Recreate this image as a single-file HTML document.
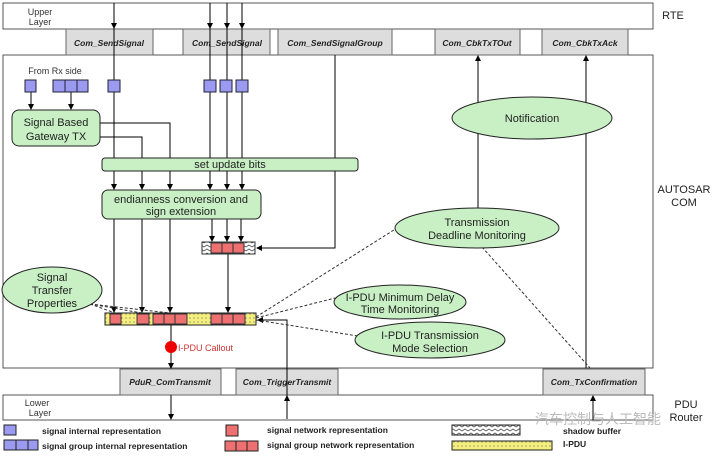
<!DOCTYPE html><html><head><style>body{margin:0;background:#fff}svg{font-family:"Liberation Sans",sans-serif}</style></head><body>
<svg width="720" height="455" viewBox="0 0 720 455" xmlns="http://www.w3.org/2000/svg">
<defs>
<marker id="a" markerWidth="6" markerHeight="6" refX="5" refY="3" orient="auto"><path d="M0,0L6,3L0,6z" fill="#000"/></marker>
<pattern id="dots" width="4" height="4" patternUnits="userSpaceOnUse"><rect width="4" height="4" fill="#f4f07a"/><circle cx="2" cy="2" r="0.8" fill="#998"/></pattern>
<pattern id="zig" width="6" height="4" patternUnits="userSpaceOnUse"><rect width="6" height="4" fill="#fff"/><path d="M0,3L3,1L6,3" stroke="#555" fill="none" stroke-width="0.8"/></pattern>
</defs>
<g stroke="#555" fill="#fff">
<rect x="3" y="3" width="650" height="26"/>
<rect x="3" y="55" width="650" height="313"/>
<rect x="3" y="395" width="650" height="25"/>
</g>
<g stroke="#666" fill="#ddd">
<rect x="66" y="29" width="87" height="26"/><rect x="183" y="29" width="87" height="26"/><rect x="278" y="29" width="114" height="26"/>
<rect x="435" y="29" width="85" height="26"/><rect x="542" y="29" width="86" height="26"/>
<rect x="120" y="369" width="101" height="26"/><rect x="236" y="369" width="102" height="26"/><rect x="543" y="369" width="102" height="26"/>
</g>
<g font-size="8.5" font-weight="bold" font-style="italic" text-anchor="middle" fill="#222">
<text x="109" y="46">Com_SendSignal</text><text x="227" y="46">Com_SendSignal</text><text x="335" y="46">Com_SendSignalGroup</text>
<text x="477" y="46">Com_CbkTxTOut</text><text x="585" y="46">Com_CbkTxAck</text>
<text x="170" y="385">PduR_ComTransmit</text><text x="287" y="385">Com_TriggerTransmit</text><text x="594" y="385">Com_TxConfirmation</text>
</g>
<g font-size="9" fill="#333" text-anchor="middle"><text x="40" y="15">Upper</text><text x="40" y="25">Layer</text>
<text x="37" y="406">Lower</text><text x="40" y="416">Layer</text><text x="55" y="74">From Rx side</text></g>
<g font-size="11" fill="#222" text-anchor="middle"><text x="673" y="19">RTE</text><text x="684" y="193">AUTOSAR</text><text x="684" y="206">COM</text>
<text x="686" y="408">PDU</text><text x="686" y="421">Router</text></g>
<!-- lines -->
<g stroke="#000" fill="none" stroke-width="1">
<line x1="114" y1="3" x2="114" y2="80"/><line x1="210" y1="3" x2="210" y2="80"/><line x1="227" y1="3" x2="227" y2="80"/><line x1="242" y1="3" x2="242" y2="80"/>
<line x1="114" y1="20" x2="114" y2="28" marker-end="url(#a)"/>
<line x1="210" y1="20" x2="210" y2="28" marker-end="url(#a)"/><line x1="227" y1="20" x2="227" y2="28" marker-end="url(#a)"/><line x1="242" y1="20" x2="242" y2="28" marker-end="url(#a)"/>
<line x1="114" y1="92" x2="114" y2="189" marker-end="url(#a)"/>
<line x1="210" y1="92" x2="210" y2="189" marker-end="url(#a)"/><line x1="227" y1="92" x2="227" y2="189" marker-end="url(#a)"/><line x1="242" y1="92" x2="242" y2="189" marker-end="url(#a)"/>
<line x1="31" y1="92" x2="31" y2="109" marker-end="url(#a)"/><line x1="71" y1="92" x2="71" y2="109" marker-end="url(#a)"/>
<polyline points="100,123 170,123 170,189" marker-end="url(#a)"/><polyline points="100,137 142,137 142,189" marker-end="url(#a)"/>
<line x1="114" y1="219" x2="114" y2="312" marker-end="url(#a)"/><line x1="142" y1="219" x2="142" y2="312" marker-end="url(#a)"/><line x1="170" y1="219" x2="170" y2="312" marker-end="url(#a)"/>
<line x1="212" y1="219" x2="212" y2="241" marker-end="url(#a)"/><line x1="227" y1="219" x2="227" y2="241" marker-end="url(#a)"/><line x1="241" y1="219" x2="241" y2="241" marker-end="url(#a)"/>
<line x1="228" y1="254" x2="228" y2="312" marker-end="url(#a)"/>
<polyline points="335,55 335,248 257,248" marker-end="url(#a)"/>
<line x1="171" y1="325" x2="171" y2="368" marker-end="url(#a)"/>
<line x1="171" y1="395" x2="171" y2="419" marker-end="url(#a)"/>
<polyline points="287,419 287,320 258,320" marker-end="url(#a)"/><line x1="287" y1="400" x2="287" y2="396" marker-end="url(#a)"/>
<line x1="478" y1="208" x2="478" y2="56" marker-end="url(#a)"/>
<line x1="586" y1="368" x2="586" y2="56" marker-end="url(#a)"/>
<line x1="593" y1="420" x2="593" y2="396" marker-end="url(#a)"/>
</g>
<g stroke="#333" fill="none" stroke-dasharray="3,2">
<line x1="90" y1="304" x2="115" y2="313"/><line x1="90" y1="304" x2="142" y2="313"/><line x1="90" y1="304" x2="170" y2="313"/>
<line x1="256" y1="317" x2="397" y2="228"/><line x1="256" y1="318" x2="335" y2="298"/><line x1="256" y1="320" x2="358" y2="336"/>
<line x1="482" y1="247" x2="590" y2="368"/>
</g>
<!-- signals -->
<g stroke="#223" fill="#9a9af0">
<rect x="25" y="80" width="11" height="12"/><rect x="53" y="80" width="12" height="12"/><rect x="65" y="80" width="12" height="12"/><rect x="77" y="80" width="11" height="12"/>
<rect x="108" y="80" width="12" height="12"/><rect x="204" y="80" width="12" height="12"/><rect x="220" y="80" width="12" height="12"/><rect x="236" y="80" width="12" height="12"/>
</g>
<g stroke="#222" fill="#c8f0c4">
<rect x="12" y="110" width="88" height="36" rx="7"/>
<rect x="102" y="158" width="256" height="13" rx="3"/>
<rect x="102" y="190" width="159" height="29" rx="6"/>
<ellipse cx="52" cy="290" rx="50" ry="23"/><ellipse cx="532" cy="118" rx="80" ry="21"/>
<ellipse cx="477" cy="228" rx="82" ry="20"/><ellipse cx="400" cy="302" rx="66" ry="17"/><ellipse cx="430" cy="340" rx="75" ry="18"/>
</g>
<g font-size="11" fill="#222" text-anchor="middle">
<text x="56" y="126">Signal Based</text><text x="56" y="140">Gateway TX</text>
<text x="230" y="168">set update bits</text>
<text x="181" y="203">endianness conversion and</text><text x="181" y="215">sign extension</text>
<text x="52" y="281">Signal</text><text x="52" y="294">Transfer</text><text x="52" y="307">Properties</text>
<text x="532" y="122">Notification</text>
<text x="477" y="226">Transmission</text><text x="477" y="239">Deadline Monitoring</text>
<text x="400" y="301">I-PDU Minimum Delay</text><text x="400" y="313">Time Monitoring</text>
<text x="430" y="339">I-PDU Transmission</text><text x="430" y="352">Mode Selection</text>
</g>
<!-- shadow buffer -->
<rect x="202" y="242" width="53" height="12" fill="url(#zig)" stroke="#333"/>
<g stroke="#333" fill="#ee7070"><rect x="211" y="243" width="11" height="10"/><rect x="222" y="243" width="11" height="10"/><rect x="233" y="243" width="11" height="10"/></g>
<!-- IPDU -->
<rect x="105" y="313" width="151" height="12" fill="url(#dots)" stroke="#222"/>
<g stroke="#333" fill="#ee7070"><rect x="110" y="314" width="11" height="10"/><rect x="137" y="314" width="12" height="10"/><rect x="153" y="314" width="11" height="10"/><rect x="164" y="314" width="11" height="10"/><rect x="175" y="314" width="12" height="10"/><rect x="211" y="314" width="11" height="10"/><rect x="222" y="314" width="11" height="10"/><rect x="233" y="314" width="12" height="10"/></g>
<circle cx="171" cy="347" r="6" fill="#e00"/>
<text x="178" y="351" font-size="9" fill="#c33">I-PDU Callout</text>
<!-- legend -->
<g stroke="#222"><rect x="4" y="425" width="12" height="10" fill="#9a9af0"/>
<rect x="4" y="440" width="12" height="10" fill="#9a9af0"/><rect x="16" y="440" width="12" height="10" fill="#9a9af0"/><rect x="28" y="440" width="10" height="10" fill="#9a9af0"/>
<rect x="226" y="425" width="12" height="11" fill="#ee7070"/>
<rect x="225" y="441" width="11" height="10" fill="#ee7070"/><rect x="236" y="441" width="11" height="10" fill="#ee7070"/><rect x="247" y="441" width="11" height="10" fill="#ee7070"/>
<rect x="452" y="425" width="68" height="10" fill="url(#zig)"/><rect x="452" y="441" width="100" height="9" fill="url(#dots)"/></g>
<g font-size="8.5" font-weight="bold" fill="#222"><text x="42" y="434">signal internal representation</text><text x="42" y="449">signal group internal representation</text>
<text x="267" y="433">signal network representation</text><text x="267" y="448">signal group network representation</text>
<text x="563" y="434">shadow buffer</text><text x="563" y="447">I-PDU</text></g>
<text x="535" y="424" font-size="14" fill="#bbb" font-family="'Liberation Sans','Noto Sans CJK SC',sans-serif">汽车控制与人工智能</text>
</svg></body></html>
